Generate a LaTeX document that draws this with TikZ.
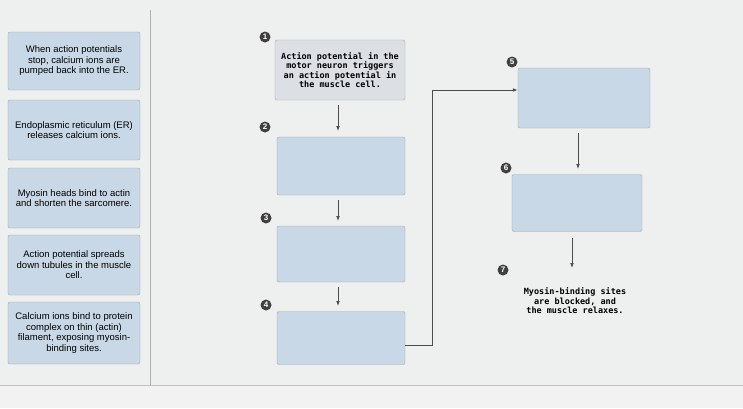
\documentclass[tikz,border=0pt]{standalone}
\usepackage{fontspec}
\setmainfont{Liberation Sans}
\setmonofont{DejaVu Sans Mono}
\usetikzlibrary{arrows.meta}
\definecolor{boxb}{HTML}{C8D8E6}
\definecolor{boxg}{HTML}{DCE0E4}
\definecolor{bg}{HTML}{EEF0F0}
\begin{document}
\begin{tikzpicture}[x=1pt,y=-1pt,
 card/.style={draw=gray!70,fill=boxb,rounded corners=2pt,align=center,font=\fontsize{9.5}{10.5}\selectfont,inner sep=1pt},
 slot/.style={draw=gray!70,fill=boxb,rounded corners=2pt},
 num/.style={circle,fill=black!75,text=white,font=\bfseries\fontsize{8}{8}\selectfont,inner sep=1pt,minimum size=11pt},
 arr/.style={-{Latex[length=5pt]},draw=black!70,line width=0.9pt},
 lbl/.style={align=center,font=\ttfamily\bfseries\fontsize{8.5}{9.5}\selectfont,inner sep=1pt}]
\useasboundingbox (0,0) rectangle (743,408);
\fill[bg] (0,0) rectangle (743,408);
\fill[white!90!gray] (0,385) rectangle (743,408);
\draw[gray!60] (150,10) -- (150,385);
\draw[gray!50] (0,385) -- (743,385);
\node[card,minimum width=132pt,minimum height=58pt] (c1) at (74,61) {When action potentials\\stop, calcium ions are\\pumped back into the ER.};
\node[card,minimum width=132pt,minimum height=60pt] (c2) at (74,130) {Endoplasmic reticulum (ER)\\releases calcium ions.};
\node[card,minimum width=132pt,minimum height=60pt] (c3) at (74,198) {Myosin heads bind to actin\\and shorten the sarcomere.};
\node[card,minimum width=132pt,minimum height=60pt] (c4) at (74,265) {Action potential spreads\\down tubules in the muscle\\cell.};
\node[card,minimum width=132pt,minimum height=62pt] (c5) at (74,333) {Calcium ions bind to protein\\complex on thin (actin)\\filament, exposing myosin-\\binding sites.};
\node[slot,fill=boxg,minimum width=130pt,minimum height=60pt,lbl] (b1) at (340,70) {Action potential in the\\motor neuron triggers\\an action potential in\\the muscle cell.};
\node[slot,minimum width=128pt,minimum height=58pt] (b2) at (341,166) {};
\node[slot,minimum width=128pt,minimum height=56pt] (b3) at (341,254) {};
\node[slot,minimum width=128pt,minimum height=53pt] (b4) at (341,338) {};
\node[slot,minimum width=132pt,minimum height=60pt] (b5) at (584,98) {};
\node[slot,minimum width=130pt,minimum height=57pt] (b6) at (577,203) {};
\node[lbl] (t7) at (575,301) {Myosin-binding sites\\are blocked, and\\the muscle relaxes.};
\node[num] (n1) at (265,37) {1};
\node[num] (n2) at (265,127) {2};
\node[num] (n3) at (266,218) {3};
\node[num] (n4) at (266,305) {4};
\node[num] (n5) at (512,62) {5};
\node[num] (n6) at (506,168) {6};
\node[num] (n7) at (503,270) {7};
\draw[arr] (338,105) -- (338,131);
\draw[arr] (338,200) -- (338,221);
\draw[arr] (338,287) -- (338,306);
\draw[arr] (578,133) -- (578,169);
\draw[arr] (572,238) -- (572,268);
\coordinate (k1) at (432,345);
\coordinate (k2) at (432,90);
\draw[arr] (b4.east|-k1) -- (k1) -- (k2) -- (b5.west|-k2);
\end{tikzpicture}
\end{document}
